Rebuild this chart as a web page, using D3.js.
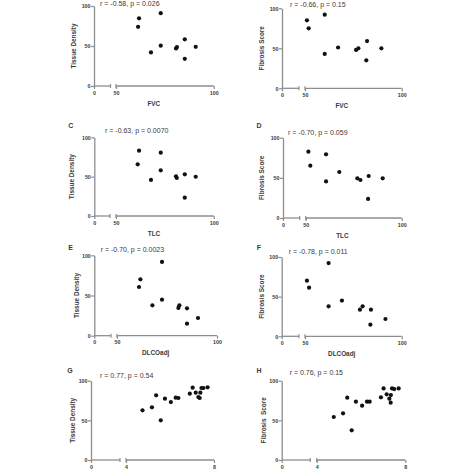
<!DOCTYPE html>
<html><head><meta charset="utf-8">
<script src="https://cdn.jsdelivr.net/npm/d3@7"></script>
<style>
html,body{margin:0;padding:0;background:#fff;}
svg{display:block;}
text{font-family:"Liberation Sans",Arial,sans-serif;}
</style></head>
<body>
<svg id="chart" width="474" height="474"></svg>
<script>
// ---- data ----
const xTicksPct = [0, 50, 100];
const xTicksAge = [0, 4, 8];
const yTicks = [0, 50, 100];

const titles = ["r = -0.58, p = 0.026", "r = -0.66, p = 0.15", "r = -0.63, p = 0.0070", "r = -0.70, p = 0.059",
                "r = -0.70, p = 0.0023", "r = -0.78, p = 0.011", "r = 0.77, p = 0.54", "r = 0.76, p = 0.15"];
const panelLetters = ["A", "B", "C", "D", "E", "F", "G", "H"];
const xLabels = ["FVC", "FVC", "TLC", "TLC", "DLCOadj", "DLCOadj", "", ""];
const yLabels = ["Tissue Density", "Fibrosis Score", "Tissue Density", "Fibrosis Score",
                 "Tissue Density", "Fibrosis Score", "Tissue Density", "Fibrosis  Score"];

const aX = [61.8, 61.3, 72.9, 67.9, 72.9, 80.7, 81.2, 85.2, 90.8, 85.2];
const aY = [84.6, 74, 91, 42, 50.4, 47, 48.7, 58.4, 49, 34];
const bX = [51.0, 51.9, 60.2, 60.2, 67.1, 76.4, 77.6, 82.1, 89.5, 81.7];
const bY = [85, 75, 92, 43, 51, 48, 50, 59, 50, 35];
const cX = [61.8, 61.1, 72.9, 67.9, 72.9, 80.7, 81.1, 85.2, 90.8, 85.2];
const cY = [83, 65.7, 80.5, 45.8, 58, 50.4, 48.3, 52.9, 49.9, 23.3];
const dX = [51.4, 52.4, 60.6, 60.6, 67.5, 76.9, 78.5, 82.8, 90.1, 82.5];
const dY = [82.6, 65.1, 79.3, 45.6, 57.3, 49.4, 47.3, 52.3, 49.4, 23.7];
const eX = [61.7, 61.0, 72.5, 67.7, 72.5, 80.7, 81.2, 85.0, 90.5, 85.0];
const eY = [70.1, 60.6, 91.7, 37.8, 44.8, 34.5, 37.8, 34, 22, 15];
const fX = [62.2, 51.0, 52.1, 62.2, 69.1, 78.4, 79.8, 84.1, 91.6, 83.8];
const fY = [92.4, 70.2, 61.3, 37.8, 45, 33.6, 37.8, 33.6, 21.8, 14.7];
const gX = [4.75, 5.18, 5.37, 5.58, 5.77, 6.04, 6.26, 6.38, 6.90, 7.03, 7.17, 7.29, 7.35, 7.38, 7.43, 7.52, 7.71];
const gY = [62.6, 66.4, 81.5, 50, 77.3, 73.1, 78.6, 78.2, 83.6, 91.2, 84.9, 79.4, 78.2, 84.9, 90.8, 90.8, 91.6];
const hX = [4.77, 5.19, 5.38, 5.58, 5.77, 6.05, 6.27, 6.39, 6.90, 7.02, 7.16, 7.28, 7.34, 7.35, 7.40, 7.50, 7.70];
const hY = [54.2, 58.8, 78.6, 37.4, 73.5, 68.5, 73.5, 73.5, 79, 90.3, 82.8, 77.3, 72.3, 81.9, 90.3, 89.5, 90.3];

const xSeries = [aX, bX, cX, dX, eX, fX, gX, hX];
const ySeries = [aY, bY, cY, dY, eY, fY, gY, hY];
// broken axis domains: [start, end of first segment, start of second segment, end]
const xDomains = [[0,10,50,100],[0,10,50,100],[0,10,50,100],[0,10,50,100],[0,10,50,100],[0,10,50,100],[0,3.4,4,8],[0,3.4,4,8]];
const xTickSets = [xTicksPct, xTicksPct, xTicksPct, xTicksPct, xTicksPct, xTicksPct, xTicksAge, xTicksAge];

// ---- layout (pixels) ----
const layout = [
  {l:94,   r:213.7, t:6,     b:86,    b1:110.5, b2:116,   tx:100, ty:5.8,   lx:null, ly:null, yl:73},
  {l:282,  r:401.7, t:8.3,   b:88.3,  b1:299,   b2:305,   tx:290, ty:6.6,   lx:null, ly:null, yl:261},
  {l:94.3, r:213.7, t:137.3, b:216,   b1:110,   b2:116,   tx:105, ty:133,   lx:70.7, ly:127.5, yl:71.7},
  {l:283,  r:401.7, t:137.7, b:218,   b1:299.7, b2:305.7, tx:288, ty:134.5, lx:259,  ly:127.5, yl:261},
  {l:94.3, r:217,   t:255.3, b:335.7, b1:111,   b2:117,   tx:100.7, ty:251.5, lx:70.7, ly:249.8, yl:76},
  {l:281.7, r:401.7, t:257,  b:336.3, b1:299,   b2:305,   tx:288.7, ty:253.5, lx:259, ly:249.5, yl:261},
  {l:91,   r:214,   t:380.7, b:460,   b1:120,   b2:126,   tx:100, ty:377.5, lx:70,   ly:372.5, yl:72.7},
  {l:281.7, r:405.3, t:380.7, b:460,  b1:310.3, b2:316.7, tx:289.7, ty:374.5, lx:259, ly:372.5, yl:263.7}
];

const AX = "#8d8d8d", TXT = "#3a3a3a";
const svg = d3.select("#chart");

layout.forEach((L, i) => {
  const dom = xDomains[i];
  const x = d3.scaleLinear().domain(dom).range([L.l, L.b1, L.b2, L.r]);
  const y = d3.scaleLinear().domain([0, 100]).range([L.b, L.t]);
  const g = svg.append("g");

  // y axis
  const ya = g.append("g").attr("transform", `translate(${L.l},0)`)
    .call(d3.axisLeft(y).tickValues(yTicks).tickSize(3).tickSizeOuter(0).tickFormat(d3.format("d")));
  ya.select(".domain").attr("stroke", AX).attr("stroke-width", 1.3);
  ya.selectAll(".tick line").attr("stroke", AX).attr("stroke-width", 1.2);
  ya.selectAll(".tick text").attr("fill", TXT).attr("font-size", 5.3).attr("font-weight", "bold")
    .attr("x", -3.5).attr("font-family", "Liberation Sans, Arial, sans-serif");

  // x axis (broken)
  const xa = g.append("g").attr("transform", `translate(0,${L.b})`)
    .call(d3.axisBottom(x).tickValues(xTickSets[i]).tickSize(3).tickSizeOuter(0).tickFormat(d3.format("d")));
  xa.select(".domain").remove();
  xa.selectAll(".tick line").attr("stroke", AX).attr("stroke-width", 1.2);
  xa.selectAll(".tick text").attr("fill", TXT).attr("font-size", 5.3).attr("font-weight", "bold")
    .attr("y", 5).attr("font-family", "Liberation Sans, Arial, sans-serif");
  const segs = [[dom[0], dom[1]], [dom[2], dom[3]]];
  segs.forEach(s => {
    xa.append("line").attr("x1", x(s[0])).attr("x2", x(s[1])).attr("y1", 0).attr("y2", 0)
      .attr("stroke", AX).attr("stroke-width", 1.3);
  });
  // break caps
  [dom[1], dom[2]].forEach(v => {
    xa.append("line").attr("x1", x(v)).attr("x2", x(v)).attr("y1", -2).attr("y2", 2)
      .attr("stroke", AX).attr("stroke-width", 1.2);
  });

  // points
  g.append("g").selectAll("circle").data(xSeries[i].map((v, k) => [v, ySeries[i][k]]))
    .join("circle").attr("cx", d => x(d[0])).attr("cy", d => y(d[1])).attr("r", 2.1).attr("fill", "#111");

  // title
  g.append("text").attr("x", L.tx).attr("y", L.ty).attr("font-size", 7).attr("fill", TXT).text(titles[i]);
  // panel letter
  if (L.lx !== null) {
    g.append("text").attr("x", L.lx).attr("y", L.ly).attr("text-anchor", "middle")
      .attr("font-size", 7).attr("font-weight", "bold").attr("fill", TXT).text(panelLetters[i]);
  }
  // x label
  if (xLabels[i]) {
    g.append("text").attr("x", (L.l + L.r) / 2).attr("y", L.b + 19.5).attr("text-anchor", "middle")
      .attr("font-size", 6.4).attr("font-weight", "bold").attr("fill", TXT).text(xLabels[i]);
  }
  // y label
  g.append("text").attr("transform", `translate(${L.yl},${(L.t + L.b) / 2}) rotate(-90)`)
    .attr("text-anchor", "middle").attr("dominant-baseline", "central")
    .attr("font-size", 6.4).attr("font-weight", "bold").attr("fill", TXT)
    .attr("xml:space", "preserve").style("white-space", "pre").text(yLabels[i]);
});
</script>
</body></html>
